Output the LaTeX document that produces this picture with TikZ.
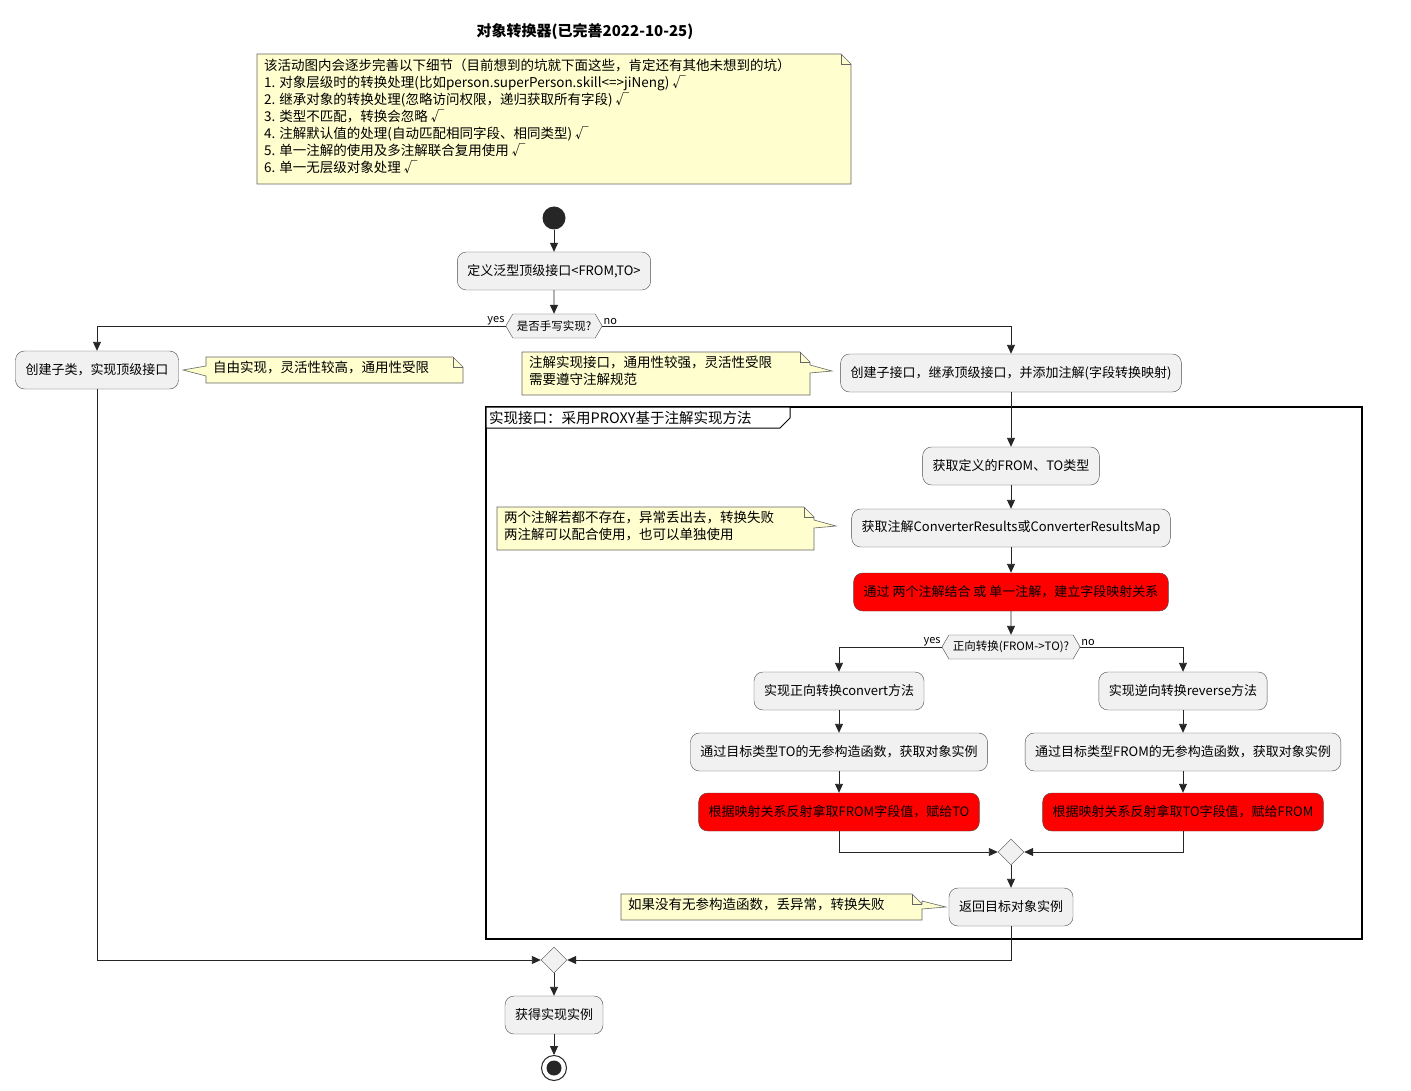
\documentclass[tikz,border=0pt]{standalone}
\usepackage{fontspec}
\setmainfont{Noto Sans CJK SC}
\usetikzlibrary{arrows.meta,shapes.geometric,shapes.symbols,calc}
\definecolor{boxfill}{HTML}{F1F1F1}
\definecolor{notefill}{HTML}{FEFECE}
\definecolor{redfill}{HTML}{FF0000}
\tikzset{
  box/.style={draw=black!70,fill=boxfill,rounded corners=9pt,minimum height=38pt,inner xsep=10pt,font=\fontsize{13}{15}\selectfont},
  redbox/.style={box,fill=redfill},
  dia/.style={draw=black!70,fill=boxfill,signal,signal to=east and west,signal pointer angle=120,inner xsep=4pt,minimum height=24pt,font=\fontsize{11.5}{13}\selectfont},
  merge/.style={draw=black!70,fill=boxfill,diamond,minimum size=26pt,inner sep=0pt},
  arr/.style={draw=black!85,line width=0.9pt,-{Triangle[length=9pt,width=8pt]}},
  ln/.style={draw=black!85,line width=0.9pt},
  notestyle/.style={draw=black!60,fill=notefill,line width=0.6pt},
  notetext/.style={anchor=north west,align=left,inner sep=0pt,font=\fontsize{13.5}{17}\selectfont},
  lbl/.style={font=\fontsize{11}{12}\selectfont,inner sep=1pt}
}
\newcommand{\mynoteR}[6]{%
  \draw[notestyle] (#1,#2) -- (#3-10,#2) -- (#3,#2+10) -- (#3,#6-6) -- (#5,#6) -- (#3,#6+2) -- (#3,#4) -- (#1,#4) -- cycle;
  \draw[notestyle,fill=none] (#3-10,#2) -- (#3-10,#2+10) -- (#3,#2+10);}
\newcommand{\mynoteL}[6]{%
  \draw[notestyle] (#1,#2) -- (#3-10,#2) -- (#3,#2+10) -- (#3,#4) -- (#1,#4) -- (#1,#6+6) -- (#5,#6) -- (#1,#6-4) -- cycle;
  \draw[notestyle,fill=none] (#3-10,#2) -- (#3-10,#2+10) -- (#3,#2+10);}
\begin{document}
\begin{tikzpicture}[x=1pt,y=-1pt]
\useasboundingbox[fill=white] (0,0) rectangle (1411,1091);
\node[font=\fontsize{15}{17}\selectfont\bfseries] (title) at (585,32) {对象转换器(已完善2022-10-25)};
\draw[notestyle] (257,54) -- (841,54) -- (851,64) -- (851,184) -- (257,184) -- cycle;
\draw[notestyle,fill=none] (841,54) -- (841,64) -- (851,64);
\node[notetext,font=\fontsize{13.5}{16.9}\selectfont] (topnote) at (264,59) {该活动图内会逐步完善以下细节（目前想到的坑就下面这些，肯定还有其他未想到的坑）\\1. 对象层级时的转换处理(比如person.superPerson.skill<=>jiNeng) √\\2. 继承对象的转换处理(忽略访问权限，递归获取所有字段) √\\3. 类型不匹配，转换会忽略 √\\4. 注解默认值的处理(自动匹配相同字段、相同类型) √\\5. 单一注解的使用及多注解联合复用使用 √\\6. 单一无层级对象处理 √};
\draw[line width=1.2pt] (486,407) rectangle (1362,939);
\draw[line width=1pt,fill=white] (486,407) -- (790,407) -- (790,418) -- (780,428) -- (486,428) -- cycle;
\node[anchor=west,inner sep=0pt,font=\fontsize{14.5}{16}\selectfont] (ptitle) at (489,418) {实现接口：采用PROXY基于注解实现方法};

\node[circle,fill=black!85,minimum size=23pt,inner sep=0pt] (start) at (554,218) {};
\node[box] (A) at (554,271) {定义泛型顶级接口<FROM,TO>};
\node[dia] (D1) at (554,326) {是否手写实现?};
\node[box] (L) at (97,370) {创建子类，实现顶级接口};
\node[box] (R) at (1011,373) {创建子接口，继承顶级接口，并添加注解(字段转换映射)};
\node[box] (B1) at (1011,466) {获取定义的FROM、TO类型};
\node[box] (B2) at (1011,528) {获取注解ConverterResults或ConverterResultsMap};
\node[redbox] (B3) at (1011,592) {通过 两个注解结合 或 单一注解，建立字段映射关系};
\node[dia] (D2) at (1011,647) {正向转换(FROM->TO)?};
\node[box] (C1) at (839,691) {实现正向转换convert方法};
\node[box] (C2) at (839,752) {通过目标类型TO的无参构造函数，获取对象实例};
\node[redbox] (C3) at (839,812) {根据映射关系反射拿取FROM字段值，赋给TO};
\node[box] (E1) at (1183,691) {实现逆向转换reverse方法};
\node[box] (E2) at (1183,752) {通过目标类型FROM的无参构造函数，获取对象实例};
\node[redbox] (E3) at (1183,812) {根据映射关系反射拿取TO字段值，赋给FROM};
\node[merge] (M1) at (1011,852) {};
\node[box] (F) at (1011,907) {返回目标对象实例};
\node[merge] (M2) at (554,960) {};
\node[box] (G) at (554,1015) {获得实现实例};
\node[circle,draw=black!85,line width=1pt,minimum size=25pt,inner sep=0pt] (end) at (554,1068) {};
\node[circle,fill=black!85,minimum size=15pt,inner sep=0pt] (endin) at (554,1068) {};

\mynoteL{206}{357}{463}{383}{183}{370}
\node[notetext] (nL) at (213,361) {自由实现，灵活性较高，通用性受限};
\mynoteR{522}{352}{810}{395}{832}{371}
\node[notetext] (nR) at (529,356) {注解实现接口，通用性较强，灵活性受限\\需要遵守注解规范};
\mynoteR{497}{507}{814}{550}{836}{526}
\node[notetext] (nB) at (504,511) {两个注解若都不存在，异常丢出去，转换失败\\两注解可以配合使用，也可以单独使用};
\mynoteR{621}{894}{922}{920}{946}{907}
\node[notetext] (nF) at (628,898) {如果没有无参构造函数，丢异常，转换失败};

\draw[arr] (start) -- (A);
\draw[arr] (A) -- (D1);
\draw[arr] (D1.west) -| (L.north);
\draw[arr] (D1.east) -| (R.north);
\node[lbl,anchor=south east] (yes1) at (D1.west) {yes};
\node[lbl,anchor=south west] (no1) at (D1.east) {no};
\draw[arr] (R) -- (B1);
\draw[arr] (B1) -- (B2);
\draw[arr] (B2) -- (B3);
\draw[arr] (B3) -- (D2);
\draw[arr] (D2.west) -| (C1.north);
\draw[arr] (D2.east) -| (E1.north);
\node[lbl,anchor=south east] (yes2) at (D2.west) {yes};
\node[lbl,anchor=south west] (no2) at (D2.east) {no};
\draw[arr] (C1) -- (C2);
\draw[arr] (C2) -- (C3);
\draw[arr] (E1) -- (E2);
\draw[arr] (E2) -- (E3);
\draw[arr] (C3.south) |- (M1.west);
\draw[arr] (E3.south) |- (M1.east);
\draw[arr] (M1) -- (F);
\draw[arr] (L.south) |- (M2.west);
\draw[arr] (F.south) |- (M2.east);
\draw[arr] (M2) -- (G);
\draw[arr] (G) -- (end);
\end{tikzpicture}
\end{document}
